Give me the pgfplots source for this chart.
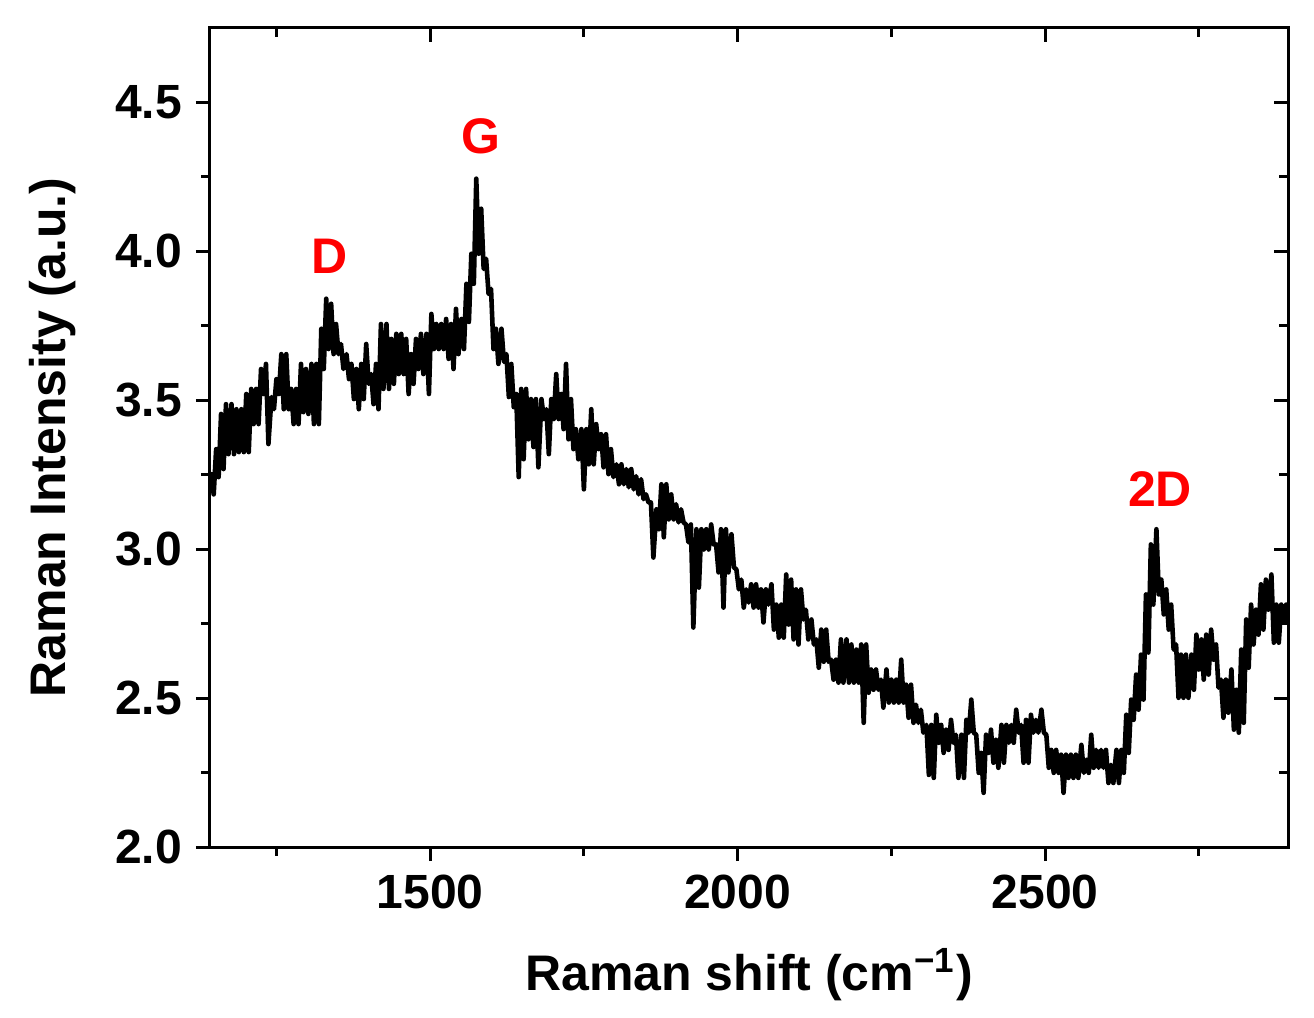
\documentclass[border=0pt]{standalone}
\usepackage{fontspec}
\setmainfont{Liberation Sans}
\usepackage{pgfplots}
\pgfplotsset{compat=1.18}
\begin{document}
\begin{tikzpicture}
\pgfplotsset{
  common/.style={
    scale only axis, width=269.5pt, height=204.75pt,
    xmin=1142, xmax=2895, ymin=2, ymax=4.75,
    xtick={1500,2000,2500}, minor xtick={1250,1750,2250,2750},
    ytick={2,2.5,3,3.5,4,4.5}, minor ytick={2.25,2.75,3.25,3.75,4.25},
    axis line style={line width=0.75pt},
    major tick length=3.5pt, minor tick length=2.2pt,
    tick style={black, line width=0.75pt},
  }
}
\begin{axis}[common,
  xtick pos=left, ytick pos=left, tick align=outside,
  /pgf/number format/assume math mode=true,
  tick label style={font=\fontsize{12}{14}\selectfont\bfseries},
  yticklabel style={/pgf/number format/fixed, /pgf/number format/fixed zerofill, /pgf/number format/precision=1},
  xticklabel style={/pgf/number format/1000 sep={}},
  label style={font=\fontsize{12.5}{15}\selectfont\bfseries},
  xlabel={Raman shift (cm\textsuperscript{−1})},
  ylabel={Raman Intensity (a.u.)},
  xlabel style={at={(axis description cs:0.5,-0.1746)}, anchor=base},
  ylabel style={at={(axis description cs:-0.1336,0.5)}, anchor=base},
]
\addplot[black, line width=1.15pt, line join=round, mark=none] coordinates {
(1142,3.22) (1144,3.252) (1148,3.184) (1152,3.336) (1156,3.242) (1160,3.454) (1164,3.269) (1168,3.487) (1172,3.319)
(1177,3.487) (1181,3.319) (1185,3.470) (1189,3.326) (1193,3.470) (1197,3.326) (1201,3.521) (1205,3.326)
(1209,3.538) (1213,3.420) (1217,3.538) (1221,3.420) (1225,3.605) (1229,3.521) (1233,3.622) (1237,3.353)
(1242,3.511) (1246,3.470) (1250,3.571) (1254,3.521) (1258,3.655) (1262,3.470) (1266,3.655) (1270,3.470)
(1274,3.538) (1278,3.420) (1282,3.538) (1286,3.420) (1290,3.622) (1294,3.460) (1298,3.605) (1302,3.454)
(1307,3.622) (1311,3.420) (1315,3.622) (1319,3.420) (1323,3.740) (1327,3.605) (1331,3.841) (1335,3.672)
(1339,3.824) (1343,3.655) (1347,3.756) (1351,3.655) (1355,3.689) (1359,3.605) (1364,3.655) (1368,3.571)
(1372,3.622) (1376,3.504) (1380,3.605) (1384,3.470) (1388,3.622) (1392,3.504) (1396,3.689) (1400,3.555)
(1404,3.588) (1408,3.487) (1412,3.622) (1416,3.470) (1420,3.756) (1424,3.538) (1429,3.756) (1433,3.538)
(1437,3.706) (1441,3.555) (1445,3.723) (1449,3.588) (1453,3.723) (1457,3.588) (1461,3.706) (1465,3.521)
(1469,3.655) (1473,3.555) (1477,3.706) (1481,3.605) (1485,3.723) (1489,3.588) (1494,3.723) (1498,3.521)
(1502,3.790) (1506,3.672) (1510,3.756) (1514,3.672) (1518,3.756) (1522,3.672) (1526,3.773) (1530,3.639)
(1534,3.756) (1538,3.605) (1542,3.807) (1546,3.655) (1551,3.773) (1555,3.672) (1559,3.891) (1563,3.763)
(1567,3.992) (1571,3.891) (1575,4.244) (1579,3.992) (1583,4.143) (1587,3.941) (1591,3.975) (1595,3.857)
(1599,3.874) (1603,3.672) (1607,3.740) (1611,3.622) (1616,3.740) (1620,3.629) (1624,3.655) (1628,3.511)
(1632,3.622) (1636,3.477) (1640,3.521) (1644,3.242) (1648,3.538) (1652,3.302) (1656,3.538) (1660,3.369)
(1664,3.504) (1668,3.343) (1672,3.504) (1676,3.275) (1681,3.504) (1685,3.437) (1689,3.470) (1693,3.319)
(1697,3.504) (1701,3.437) (1705,3.588) (1709,3.437) (1713,3.521) (1717,3.403) (1721,3.622) (1725,3.369)
(1729,3.504) (1733,3.336) (1737,3.403) (1741,3.302) (1746,3.403) (1750,3.201) (1754,3.403) (1758,3.285)
(1762,3.470) (1766,3.285) (1770,3.420) (1774,3.336) (1778,3.386) (1782,3.275) (1786,3.386) (1790,3.252)
(1794,3.336) (1798,3.242) (1803,3.285) (1807,3.218) (1811,3.285) (1815,3.218) (1819,3.269) (1823,3.208)
(1827,3.269) (1831,3.201) (1835,3.245) (1839,3.184) (1843,3.235) (1847,3.168) (1851,3.184) (1855,3.157)
(1859,3.157) (1863,2.972) (1868,3.134) (1872,3.067) (1876,3.218) (1880,3.040) (1884,3.218) (1888,3.100)
(1892,3.184) (1896,3.100) (1900,3.151) (1904,3.090) (1908,3.134) (1912,3.090) (1916,3.083) (1920,3.023)
(1924,3.083) (1928,2.737) (1933,3.067) (1937,2.871) (1941,3.067) (1945,2.999) (1949,3.067) (1953,2.999)
(1957,3.083) (1961,3.016) (1965,3.016) (1969,2.922) (1973,3.067) (1977,2.804) (1981,3.067) (1985,2.922)
(1990,3.050) (1994,2.939) (1998,2.932) (2002,2.865) (2006,2.898) (2010,2.804) (2014,2.865) (2018,2.821)
(2022,2.882) (2026,2.804) (2030,2.882) (2034,2.804) (2038,2.865) (2042,2.754) (2046,2.865) (2050,2.814)
(2055,2.882) (2059,2.730) (2063,2.814) (2067,2.703) (2071,2.814) (2075,2.703) (2079,2.915) (2083,2.747)
(2087,2.898) (2091,2.697) (2095,2.865) (2099,2.680) (2103,2.865) (2107,2.764) (2111,2.797) (2115,2.697)
(2120,2.764) (2124,2.680) (2128,2.697) (2132,2.602) (2136,2.730) (2140,2.622) (2144,2.730) (2148,2.622)
(2152,2.629) (2156,2.562) (2160,2.629) (2164,2.552) (2168,2.697) (2172,2.552) (2177,2.697) (2181,2.552)
(2185,2.680) (2189,2.552) (2193,2.663) (2197,2.552) (2201,2.680) (2205,2.417) (2209,2.680) (2213,2.518)
(2217,2.596) (2221,2.528) (2225,2.596) (2229,2.528) (2233,2.562) (2237,2.468) (2242,2.596) (2246,2.485)
(2250,2.562) (2254,2.485) (2258,2.562) (2262,2.485) (2266,2.629) (2270,2.485) (2274,2.545) (2278,2.434)
(2282,2.545) (2286,2.417) (2290,2.478) (2294,2.417) (2298,2.461) (2302,2.384) (2307,2.410) (2311,2.242)
(2315,2.410) (2319,2.232) (2323,2.444) (2327,2.350) (2331,2.410) (2335,2.316) (2339,2.394) (2343,2.326)
(2347,2.427) (2351,2.350) (2355,2.377) (2359,2.232) (2364,2.377) (2368,2.232) (2372,2.427) (2376,2.384)
(2380,2.495) (2384,2.384) (2388,2.377) (2392,2.249) (2396,2.316) (2400,2.182) (2404,2.377) (2408,2.316)
(2412,2.394) (2416,2.283) (2420,2.360) (2424,2.266) (2429,2.410) (2433,2.283) (2437,2.410) (2441,2.350)
(2445,2.410) (2449,2.350) (2453,2.461) (2457,2.384) (2461,2.410) (2465,2.283) (2469,2.427) (2473,2.283)
(2477,2.444) (2481,2.384) (2485,2.427) (2489,2.384) (2494,2.461) (2498,2.384) (2502,2.377) (2506,2.266)
(2510,2.326) (2514,2.249) (2518,2.326) (2522,2.249) (2526,2.310) (2530,2.182) (2534,2.310) (2538,2.232)
(2542,2.310) (2546,2.232) (2550,2.310) (2554,2.232) (2559,2.343) (2563,2.249) (2567,2.293) (2571,2.249)
(2575,2.377) (2579,2.266) (2583,2.326) (2587,2.266) (2591,2.326) (2595,2.266) (2599,2.326) (2603,2.215)
(2607,2.276) (2611,2.215) (2616,2.326) (2620,2.215) (2624,2.326) (2628,2.249) (2632,2.444) (2636,2.316)
(2640,2.495) (2644,2.427) (2648,2.579) (2652,2.461) (2656,2.646) (2660,2.495) (2664,2.848) (2668,2.653)
(2672,3.016) (2676,2.814) (2681,3.067) (2685,2.848) (2689,2.898) (2693,2.781) (2697,2.865) (2701,2.730)
(2705,2.814) (2709,2.663) (2713,2.680) (2717,2.501) (2721,2.646) (2725,2.501) (2729,2.646) (2733,2.501)
(2738,2.646) (2742,2.528) (2746,2.713) (2750,2.596) (2754,2.697) (2758,2.562) (2762,2.713) (2766,2.579)
(2770,2.730) (2774,2.629) (2778,2.680) (2782,2.535) (2786,2.562) (2790,2.434) (2794,2.562) (2798,2.451)
(2803,2.596) (2807,2.394) (2811,2.528) (2815,2.384) (2819,2.663) (2823,2.417) (2827,2.764) (2831,2.602)
(2835,2.814) (2839,2.680) (2843,2.797) (2847,2.713) (2851,2.882) (2855,2.730) (2859,2.898) (2863,2.797)
(2868,2.915) (2872,2.686) (2876,2.814) (2880,2.686) (2884,2.814) (2888,2.754) (2892,2.814) (2895,2.754)
};
\node[text=red, font=\fontsize{12.5}{15}\selectfont\bfseries] at (axis cs:1337,3.982) {D};
\node[text=red, font=\fontsize{12.5}{15}\selectfont\bfseries] at (axis cs:1583,4.386) {G};
\node[text=red, font=\fontsize{12.5}{15}\selectfont\bfseries] at (axis cs:2687,3.201) {2D};
\end{axis}
\begin{axis}[common,
  xtick pos=right, ytick pos=right, tick align=inside,
  xticklabels={}, yticklabels={},
]
\end{axis}
\pgfresetboundingbox
\path[use as bounding box] (-52.5pt,-42.5pt) rectangle (276pt,211.75pt);
\end{tikzpicture}
\end{document}
